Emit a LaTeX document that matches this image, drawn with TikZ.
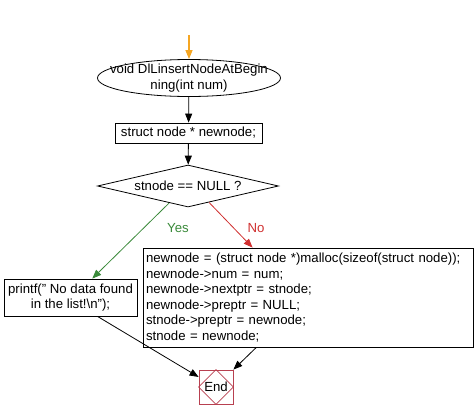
\documentclass[tikz,border=0pt]{standalone}
\usepackage{fontspec}
\setmainfont{Liberation Sans}
\usetikzlibrary{shapes.geometric,arrows.meta}
\definecolor{startorange}{HTML}{F5A623}
\definecolor{yesgreen}{HTML}{3A8A3A}
\definecolor{nored}{HTML}{D03030}
\definecolor{endred}{HTML}{B84050}

\begin{document}
\begin{tikzpicture}[x=1pt, y=-1pt, font={\fontsize{13.2}{15.5}\selectfont},
  line width=0.8pt, >={Triangle[length=9pt,width=7pt]},
  func/.style={rectangle, inner sep=0pt, minimum width=183pt, minimum height=37pt, align=center},
  block/.style={draw, rectangle, inner sep=3pt},
  test/.style={draw, diamond, inner sep=0pt, aspect=4.3, minimum width=181pt, minimum height=42pt},
  stopbox/.style={draw=endred, rectangle, minimum size=34pt, inner sep=0pt}]
\useasboundingbox (0,0) rectangle (474,418);

% start and declaration
\coordinate (start) at (189,35);
\node [func] (fn) at (189,78) {void DlLinsertNodeAtBegin\\ning(int num)};
\draw (fn.center) ellipse (91.5 and 18.5);
\node [block, minimum width=147pt, minimum height=20pt] (decl) at (188.5,133) {struct node * newnode;};
\node [test] (cond) at (188,186) {stnode == NULL ?};

% the two branches
\node [block, minimum width=133pt, minimum height=37pt, align=center] (notfound) at (70.5,297.5)
  {printf(" No data found\\in the list!\textbackslash n");};
\node [block, text width=324pt, minimum height=99pt, align=left] (body) at (308,297.5)
  {newnode = (struct node *)malloc(sizeof(struct node));\\
   newnode->num = num;\\
   newnode->nextptr = stnode;\\
   newnode->preptr = NULL;\\
   stnode->preptr = newnode;\\
   stnode = newnode;};
\node [text=yesgreen] (yes) at (178,228) {Yes};
\node [text=nored] (no) at (256,228) {No};

% end
\node [stopbox] (end) at (216,387) {End};
\draw [endred] (end.north) -- (end.east) -- (end.south) -- (end.west) -- cycle;

% connectors
\draw [->, startorange, line width=1.2pt] (start) -- (fn.north);
\draw [->] (fn) -- (decl);
\draw [->] (decl) -- (cond);
\draw [->, yesgreen] (cond.222) -- (notfound.41);
\draw [->, nored] (cond.-38) -- (body.138);
\draw [->] (notfound.-35) -- (end.150);
\draw [->] (body.224) -- (end.north east);
\end{tikzpicture}
\end{document}
